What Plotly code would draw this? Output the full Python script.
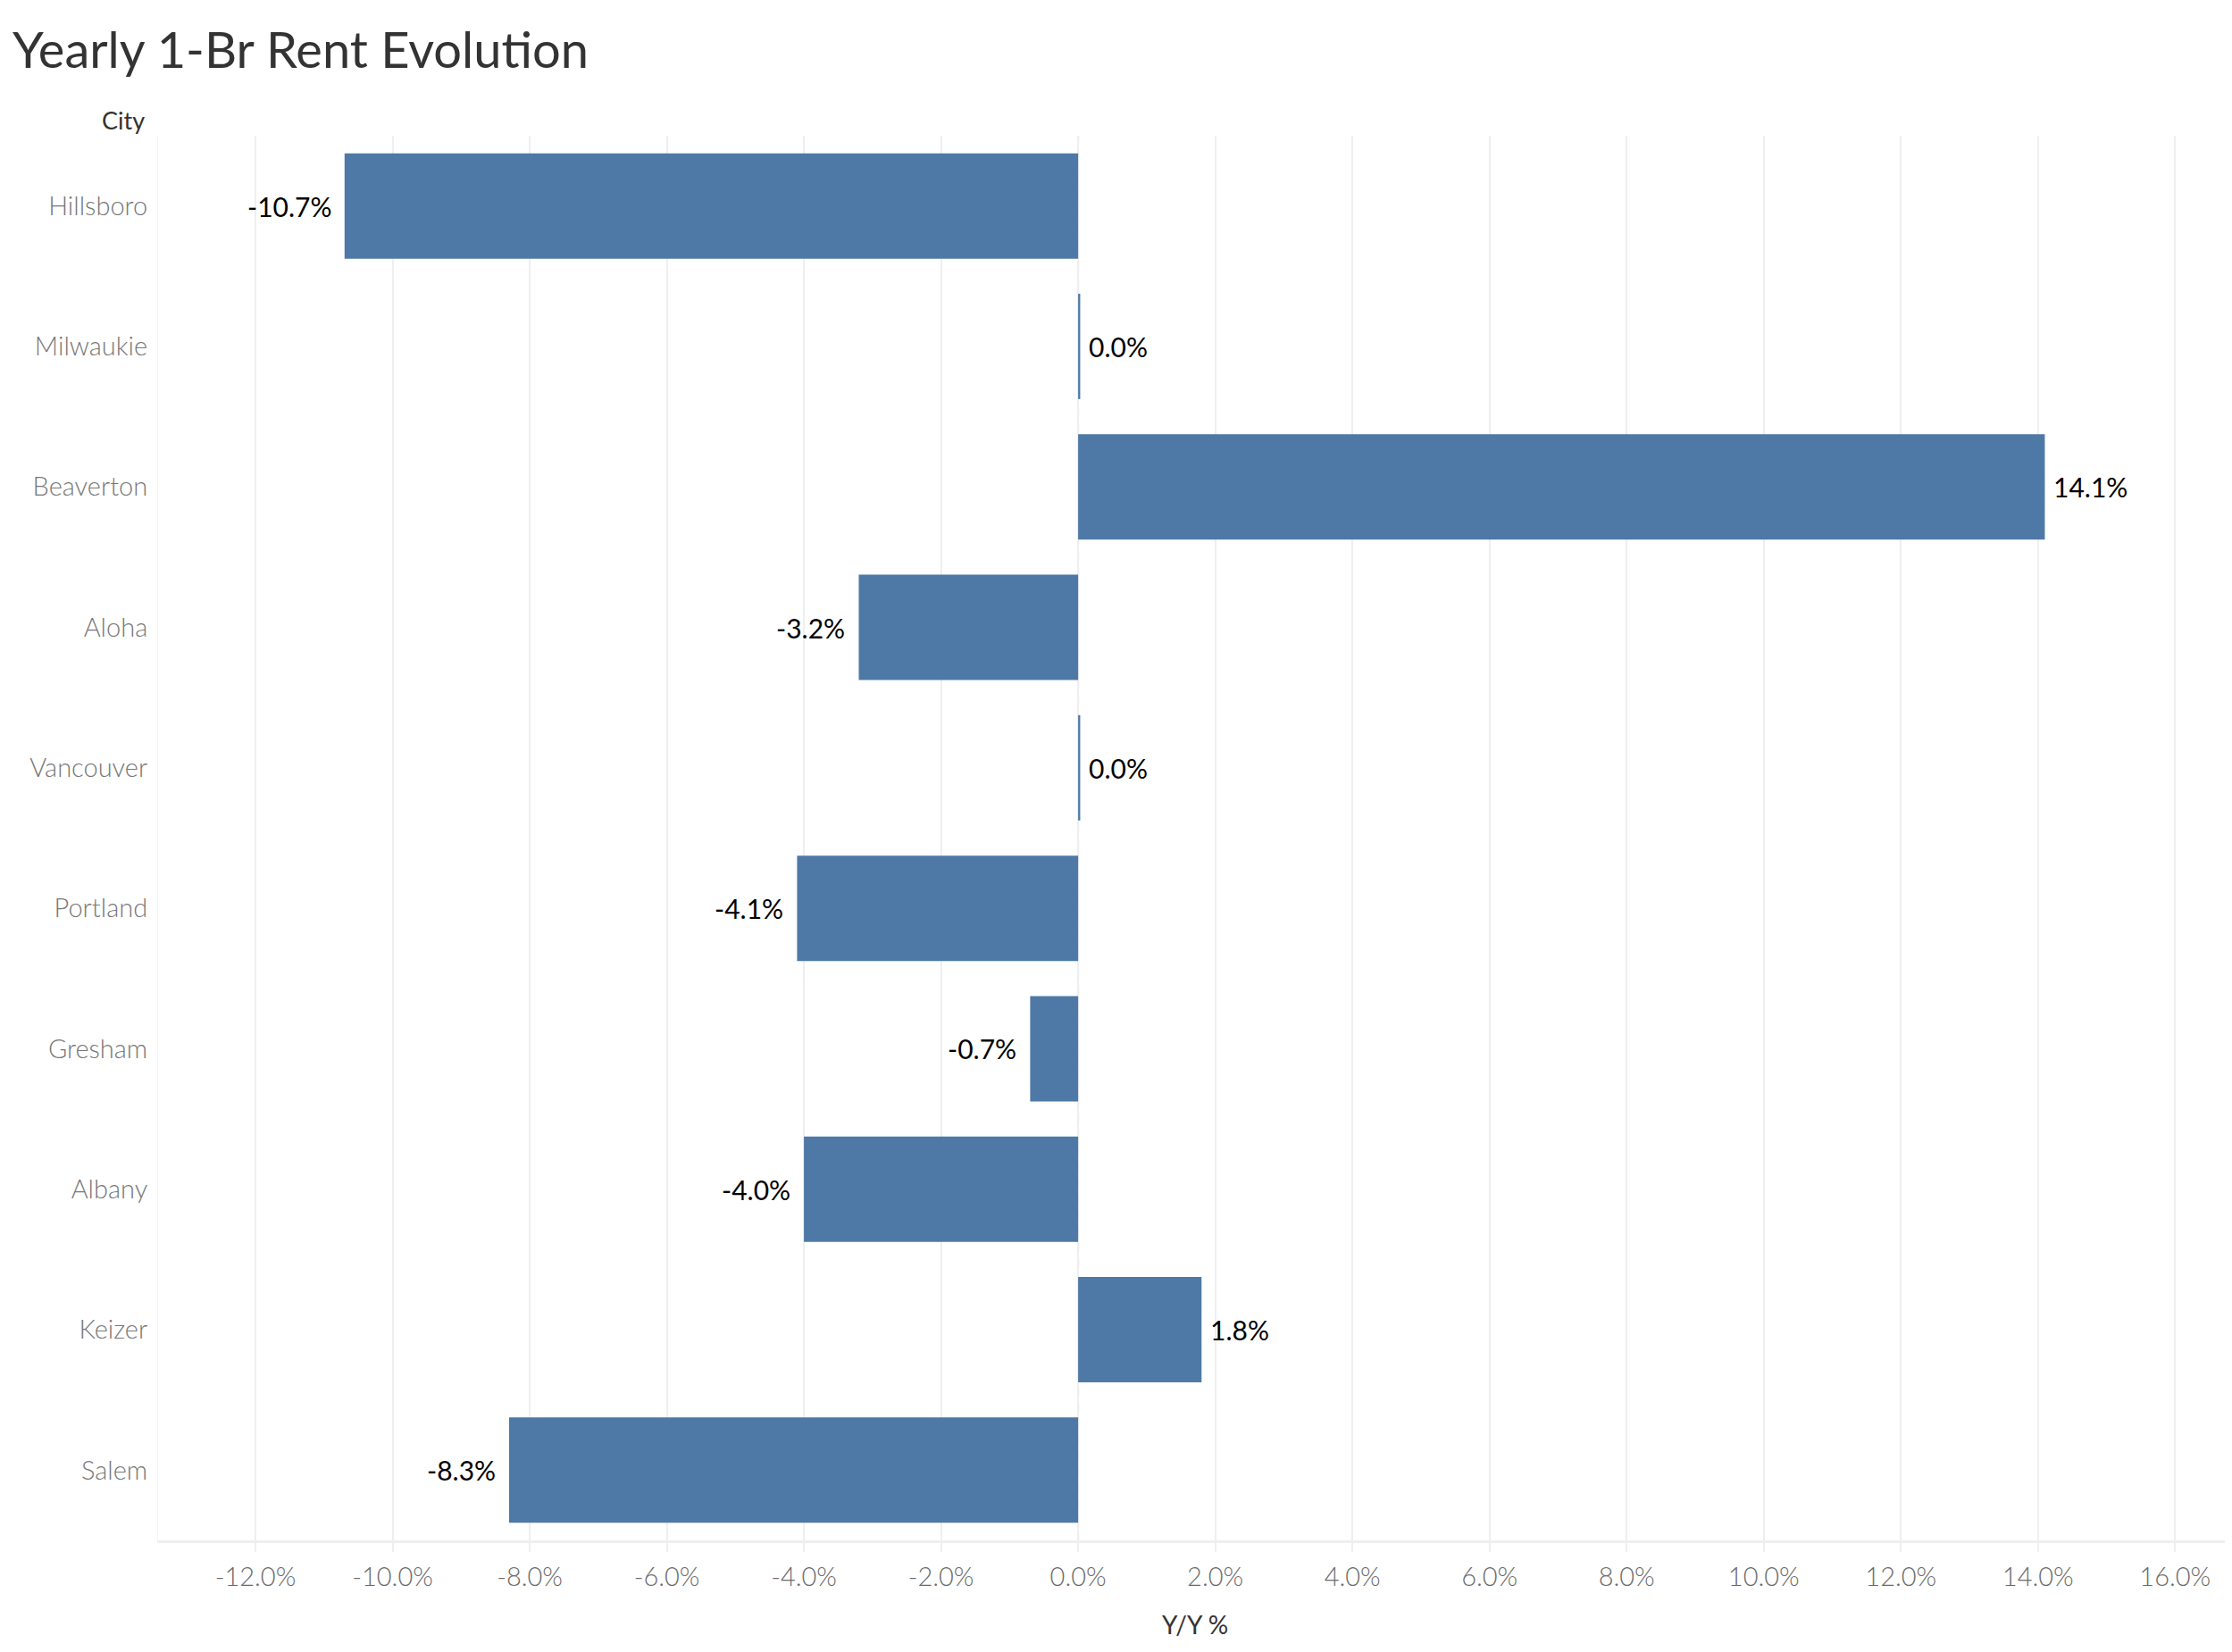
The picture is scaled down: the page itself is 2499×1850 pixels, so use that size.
import plotly.graph_objects as go

cities = ["Hillsboro", "Milwaukie", "Beaverton", "Aloha", "Vancouver",
          "Portland", "Gresham", "Albany", "Keizer", "Salem"]
yy_pct = [-10.7, 0.03, 14.1, -3.2, 0.03, -4.1, -0.7, -4.0, 1.8, -8.3]
label_text = ["-10.7%", "0.0%", "14.1%", "-3.2%", "0.0%", "-4.1%", "-0.7%", "-4.0%", "1.8%", "-8.3%"]
tick_vals = [-12, -10, -8, -6, -4, -2, 0, 2, 4, 6, 8, 10, 12, 14, 16]
tick_text = ["-12.0%", "-10.0%", "-8.0%", "-6.0%", "-4.0%", "-2.0%", "0.0%", "2.0%",
             "4.0%", "6.0%", "8.0%", "10.0%", "12.0%", "14.0%", "16.0%"]

OFF = 8  # page body margin
W, H = 2499 - OFF, 1850 - OFF
# target page pixel positions
PL, PR, PT, PB = 177, 2499, 152, 1725
ML = PL - OFF
MR = 0
MT = PT - OFF
MB = H - (PB - OFF)
PW = W - ML - MR
PH = H - MT - MB

def px_x(px):
    return (px - OFF - ML) / PW

def px_y(py):
    return (H - MB - (py - OFF)) / PH

FONT = "Lato"
BAR = "#4e79a7"
GRID = "#efefef"

fig = go.Figure()
fig.add_trace(go.Bar(
    x=yy_pct, y=cities, orientation="h",
    marker=dict(color=BAR, line=dict(width=0)),
    width=0.75,
    hoverinfo="skip",
))

for c, v, t in zip(cities, yy_pct, label_text):
    fig.add_annotation(
        x=v, y=c, xref="x", yref="y", text=t, showarrow=False,
        xanchor="right" if v < 0 else "left",
        xshift=-13 if v < 0 else 8,
        font=dict(family=FONT, size=30, color="#000000"),
    )

fig.add_shape(type="line", xref="x", yref="paper", x0=0, x1=0, y0=0, y1=1,
              line=dict(color="#c8c8c8", width=2, dash="dash"), layer="below")

fig.add_annotation(
    xref="paper", yref="paper", x=px_x(12), y=px_y(55),
    xanchor="left", yanchor="middle", showarrow=False,
    text="Yearly 1-Br Rent Evolution",
    font=dict(family=FONT, size=56, color="#333333"),
)
fig.add_annotation(
    xref="paper", yref="paper", x=px_x(164), y=px_y(134),
    xanchor="right", yanchor="middle", showarrow=False,
    text="City",
    font=dict(family=FONT, size=27, color="#333333"),
)

fig.update_layout(
    width=W, height=H,
    margin=dict(l=ML, r=MR, t=MT, b=MB, pad=0),
    plot_bgcolor="white", paper_bgcolor="white",
    showlegend=False,
    bargap=0.25,
)
fig.update_xaxes(
    range=[-13.42, 16.83],
    tickvals=tick_vals, ticktext=tick_text,
    showgrid=True, gridcolor=GRID, gridwidth=2,
    zeroline=False,
    showline=True, linecolor=GRID, linewidth=3,
    ticks="outside", ticklen=10, tickwidth=2, tickcolor=GRID,
    ticklabelstandoff=3,
    tickfont=dict(family=FONT, size=29, color="#6b6b6b", weight=300),
    title=dict(text="Y/Y %", font=dict(family=FONT, size=28, color="#333333"), standoff=30),
)
fig.update_yaxes(
    categoryorder="array", categoryarray=cities, autorange="reversed",
    showgrid=False, zeroline=False,
    showline=True, linecolor="#f3f3f3", linewidth=1,
    ticks="outside", ticklen=5, tickcolor="rgba(0,0,0,0)",
    tickfont=dict(family=FONT, size=29, color="#777777", weight=300),
)

fig.write_html("out.html")
